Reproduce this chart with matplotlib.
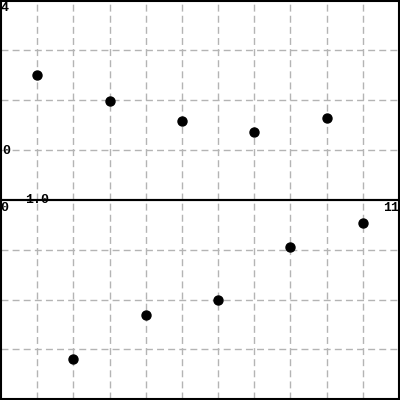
import matplotlib
matplotlib.use("Agg")
import matplotlib.pyplot as plt
from matplotlib.transforms import offset_copy

# data
top_x = [1, 3, 5, 7, 9]
top_y = [2.5, 1.98, 1.58, 1.36, 1.64]
bot_x = [2, 4, 6, 8, 10]
bot_y = [0.8, 1.68, 1.98, 3.06, 3.54]
x_grid = [1, 2, 3, 4, 5, 6, 7, 8, 9, 10]
y_grid = [1, 2, 3]
x_lim = (0, 11)
y_lim = (0, 4)

W = 400.0
fig = plt.figure(figsize=(4, 4), dpi=100)
fig.patch.set_facecolor("white")
ax1 = fig.add_axes([1 / W, 200 / W, 398 / W, 199.5 / W])
ax2 = fig.add_axes([1 / W, 1 / W, 398 / W, 199 / W])
ax2.patch.set_alpha(0)

grid_kw = dict(color="#b4b4b4", linestyle=(0, (5, 3)), linewidth=1.0)
for ax, xs, ys in ((ax1, top_x, top_y), (ax2, bot_x, bot_y)):
    ax.set_xlim(*x_lim)
    ax.set_ylim(*y_lim)
    ax.set_xticks(x_grid)
    ax.set_yticks(y_grid)
    ax.tick_params(length=0, labelleft=False, labelbottom=False)
    ax.grid(True, **grid_kw)
    ax.set_axisbelow(True)
    for s in ax.spines.values():
        s.set_linewidth(1.5)
        s.set_color("black")
    ax.scatter(xs, ys, s=42, color="black", zorder=3, clip_on=False)

font = dict(family=["Liberation Mono", "DejaVu Sans Mono"], fontweight="bold",
            fontsize=9.5, color="black", zorder=10, clip_on=False)
ax1.text(0, 4, "4", ha="left", va="top",
         transform=offset_copy(ax1.transData, fig=fig, x=-0.5, y=-1, units="points"), **font)
ax1.text(0, 1, "1.0", ha="right", va="center",
         transform=offset_copy(ax1.transData, fig=fig, x=7.5, y=-0.5, units="points"), **font)
ax1.text(0, 0, "0", ha="left", va="top",
         transform=offset_copy(ax1.transData, fig=fig, x=-0.5, y=-1.5, units="points"), **font)
ax1.text(1, 0, "1.0", ha="center", va="center",
         transform=offset_copy(ax1.transData, fig=fig, x=0, y=0, units="points"), **font)
ax1.text(11, 0, "11", ha="right", va="top",
         transform=offset_copy(ax1.transData, fig=fig, x=0, y=-1.5, units="points"), **font)

fig.savefig("out.png", dpi=100)
